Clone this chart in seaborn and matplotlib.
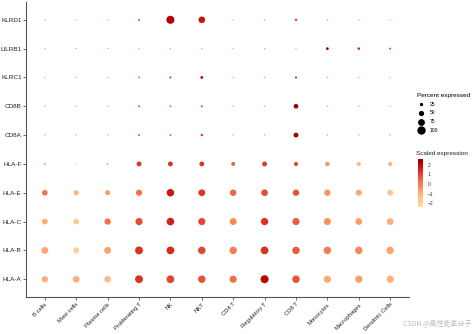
import numpy as np
import pandas as pd
import matplotlib
matplotlib.use("Agg")
import matplotlib.pyplot as plt
import matplotlib.colors as mcolors
from matplotlib.lines import Line2D
import seaborn as sns

cell_types = ["B cells", "Mast cells", "Plasma cells", "Proliferating T", "NK", "NKT",
              "CD4 T", "Regulatory T", "CD8 T", "Monocytes", "Macrophages", "Dendritic Cells"]
genes = ["HLA-A", "HLA-B", "HLA-C", "HLA-E", "HLA-F", "CD8A", "CD8B", "KLRC1", "LILRB1", "KLRD1"]

# percent expressed (rows = genes, bottom to top; columns = cell types)
pct_HLA_A = [65, 75, 70, 92, 90, 85, 80, 95, 85, 80, 80, 80]
pct_HLA_B = [75, 62, 75, 92, 90, 85, 85, 90, 85, 85, 85, 85]
pct_HLA_C = [58, 55, 68, 80, 88, 80, 75, 82, 80, 78, 72, 72]
pct_HLA_E = [55, 48, 50, 65, 85, 75, 68, 72, 68, 68, 62, 62]
pct_HLA_F = [10, 4, 7, 45, 45, 45, 32, 45, 35, 40, 35, 35]
pct_CD8A = [2, 2, 2, 8, 8, 14, 2, 2, 45, 2, 2, 2]
pct_CD8B = [2, 2, 2, 8, 6, 9, 2, 2, 42, 2, 2, 2]
pct_KLRC1 = [2, 2, 2, 6, 10, 18, 2, 2, 9, 2, 2, 2]
pct_LILRB1 = [2, 2, 2, 2, 2, 2, 2, 2, 2, 18, 15, 9]
pct_KLRD1 = [2, 2, 2, 10, 95, 72, 2, 2, 16, 2, 2, 2]

# scaled expression
exp_HLA_A = [-0.9, -1.0, -1.2, 1.3, 1.0, 0.8, 0.3, 2.1, 0.8, -0.8, -0.6, -1.0]
exp_HLA_B = [-0.8, -1.9, -0.7, 1.3, 1.4, 1.0, 0.0, 1.3, 0.7, 0.0, -0.2, -0.8]
exp_HLA_C = [-0.9, -1.6, 0.2, 0.9, 1.6, 1.0, -0.2, 1.3, 0.7, -0.4, -0.6, -0.9]
exp_HLA_E = [0.3, -1.0, -0.7, 0.2, 1.8, 1.2, 0.5, 0.9, 0.8, -0.5, -0.8, -1.7]
exp_HLA_F = [-0.6, -1.5, -0.6, 1.2, 1.3, 1.2, 0.6, 1.2, 1.0, -0.5, -1.1, -1.1]
exp_CD8A = [-0.6, -0.6, -0.6, 1.0, 0.6, 1.2, -0.6, -0.6, 2.5, -0.6, -0.6, -0.6]
exp_CD8B = [-0.6, -0.6, -0.6, 1.0, 0.8, 1.0, -0.6, -0.6, 2.5, -0.6, -0.6, -0.6]
exp_KLRC1 = [-0.6, -0.6, -0.6, 0.8, 1.2, 2.3, -0.6, -0.6, 2.0, -0.6, -0.6, -0.6]
exp_LILRB1 = [-0.6, -0.6, -0.6, -0.6, -0.6, -0.6, -0.6, -0.6, -0.6, 2.5, 1.6, 1.0]
exp_KLRD1 = [-0.6, -0.6, -0.6, 0.8, 2.2, 1.8, -0.6, -0.6, 0.9, -0.6, -0.6, -0.6]

legend_pcts = [25, 50, 75, 100]
cbar_ticks = [-2, -1, 0, 1, 2]

pct_rows = [pct_HLA_A, pct_HLA_B, pct_HLA_C, pct_HLA_E, pct_HLA_F,
            pct_CD8A, pct_CD8B, pct_KLRC1, pct_LILRB1, pct_KLRD1]
exp_rows = [exp_HLA_A, exp_HLA_B, exp_HLA_C, exp_HLA_E, exp_HLA_F,
            exp_CD8A, exp_CD8B, exp_KLRC1, exp_LILRB1, exp_KLRD1]

records = []
for g, prow, erow in zip(genes, pct_rows, exp_rows):
    for c, p, e in zip(cell_types, prow, erow):
        records.append({"cell": c, "gene": g, "pct": p, "exp": e})
df = pd.DataFrame(records)
df["cell"] = pd.Categorical(df["cell"], categories=cell_types, ordered=True)
df["gene"] = pd.Categorical(df["gene"], categories=genes[::-1], ordered=True)

base = plt.get_cmap("OrRd")
cmap = mcolors.LinearSegmentedColormap.from_list("orrd_t", base(np.linspace(0.2, 0.93, 256)))
hue_norm = mcolors.Normalize(vmin=-2.4, vmax=2.6)
size_norm = mcolors.PowerNorm(gamma=1.4, vmin=0, vmax=100)
smin, smax = 0.8, 36

plt.rcParams["font.family"] = ["Liberation Sans", "DejaVu Sans"]
fig = plt.figure(figsize=(4.74, 3.34), dpi=100)
ax = fig.add_axes([26 / 474, 1 - 296.5 / 334, (409 - 26) / 474, (296.5 - 2.5) / 334])

sns.scatterplot(data=df, x="cell", y="gene", hue="exp", size="pct",
                palette=cmap, hue_norm=hue_norm, sizes=(smin, smax), size_norm=size_norm,
                linewidth=0, legend=False, ax=ax)

ax.set_xlim(-0.6, len(cell_types) - 0.4)
ax.set_ylim(len(genes) - 0.4, -0.6)
ax.set_xlabel("")
ax.set_ylabel("")
for s in ["top", "right"]:
    ax.spines[s].set_visible(False)
for s in ["left", "bottom"]:
    ax.spines[s].set_color("#555555")
    ax.spines[s].set_linewidth(0.8)
ax.tick_params(axis="both", length=2.3, width=0.6, color="#555555",
               labelcolor="#222222", pad=1.5)
ax.tick_params(axis="y", labelsize=4.6, pad=0.8)
ax.tick_params(axis="x", labelsize=4.2)
plt.setp(ax.get_xticklabels(), rotation=45, ha="right", rotation_mode="anchor")

# size legend
handles = []
for p in legend_pcts:
    s = smin + size_norm(p) * (smax - smin)
    handles.append(Line2D([], [], linestyle="", marker="o", color="black",
                          markersize=np.sqrt(s), markeredgewidth=0, label=str(p)))
leg = fig.legend(handles=handles, title="Percent expressed", loc="upper left",
                 bbox_to_anchor=(415 / 474, 1 - 91 / 334), frameon=False,
                 fontsize=3.6, title_fontsize=4.6, labelspacing=0.75,
                 handletextpad=1.2, handlelength=1.4, borderaxespad=0)
leg._legend_box.align = "left"

# colour bar
cax = fig.add_axes([418 / 474, 1 - 207 / 334, 5 / 474, 48 / 334])
cb = matplotlib.colorbar.ColorbarBase(cax, cmap=cmap, norm=hue_norm, ticks=cbar_ticks)
cb.outline.set_visible(False)
cax.tick_params(length=0, labelsize=3.6, labelcolor="#333333", pad=3.5)
fig.text(416 / 474, 1 - 153 / 334, "Scaled expression", fontsize=4.6, color="#222222",
         ha="left", va="center")

fig.text(474 / 474 - 0.005, 1 - 324 / 334, "CSDN @高性能氢分子", fontsize=5, color="#bbbbbb",
         ha="right", va="center", family=["Noto Sans CJK SC", "DejaVu Sans"])

fig.savefig("out.png", dpi=100)
